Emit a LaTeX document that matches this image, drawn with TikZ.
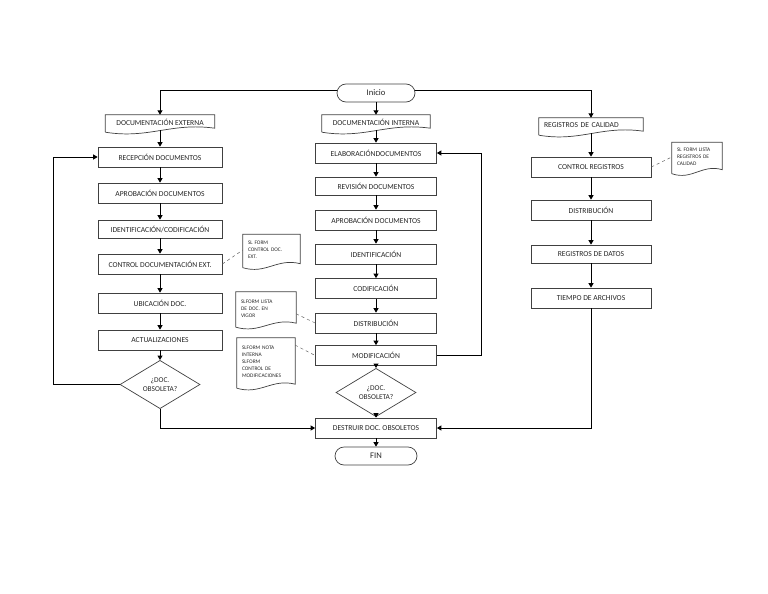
\documentclass[tikz,border=0pt]{standalone}
\usepackage{fontspec}
\setmainfont{Carlito}
\usetikzlibrary{calc,arrows.meta,shapes.geometric}

% outline of a document symbol (wavy bottom) around a named node
\newcommand{\docoutline}[1]{%
  \draw[boxline] ([yshift=-2pt]#1.south west) -- (#1.north west) -- (#1.north east) -- ([yshift=2pt]#1.south east)
    .. controls ($(#1.south east)!0.4!(#1.south west)+(0,8pt)$)
    and ($(#1.south east)!0.6!(#1.south west)+(0,-9pt)$) .. ([yshift=-2pt]#1.south west);}

\tikzset{
  boxline/.style={draw=black!75, line width=0.7pt},
  procbox/.style={boxline, rectangle, minimum height=20pt, inner sep=1pt,
    font=\fontsize{7.6}{9}\selectfont, text=black!85},
  leftbox/.style={procbox, minimum width=124pt},
  midbox/.style={procbox, minimum width=121pt},
  rightbox/.style={procbox, minimum width=120pt},
  docnode/.style={rectangle, inner sep=1pt, minimum height=15pt,
    font=\fontsize{7.6}{9}\selectfont, text=black!85},
  notenode/.style={rectangle, inner xsep=5pt, inner ysep=2pt, align=left,
    font=\fontsize{5.4}{7}\selectfont, text=black!85},
  termbox/.style={boxline, rectangle, rounded corners=9pt, minimum height=18pt,
    font=\fontsize{8.6}{10}\selectfont, text=black!85},
  decision/.style={boxline, diamond, minimum width=80pt, minimum height=35pt,
    inner sep=0pt, align=center, font=\fontsize{7.4}{9}\selectfont, text=black!85},
  flow/.style={line width=1pt, -{Triangle[width=5pt,length=4.5pt]}},
  link/.style={draw=black!60, dashed, line width=0.5pt},
}

\begin{document}
\begin{tikzpicture}[x=1pt, y=-1pt]
    \useasboundingbox (0,0) rectangle (768,594);

    % Turning points of the two feedback loops
    \coordinate (loopext) at (53,0);
    \coordinate (loopint) at (481,0);

    % Start
    \node[termbox, minimum width=78pt] (inicio) at (376,93) {Inicio};

    % External documentation
    \node[docnode, minimum width=109pt] (docext) at (160,122.5) {DOCUMENTACIÓN EXTERNA};
    \node[leftbox] (recep) at (160,157) {RECEPCIÓN DOCUMENTOS};
    \node[leftbox] (aprobext) at (160,193) {APROBACIÓN DOCUMENTOS};
    \node[leftbox, minimum height=18pt] (identext) at (160,229) {IDENTIFICACIÓN/CODIFICACIÓN};
    \node[leftbox] (controlext) at (160,264) {CONTROL DOCUMENTACIÓN EXT.};
    \node[leftbox] (ubicacion) at (160,303) {UBICACIÓN DOC.};
    \node[leftbox] (actual) at (160,340) {ACTUALIZACIONES};
    \node[decision] (obsext) at (160,384.5) {¿DOC.\\OBSOLETA?};

    % Internal documentation
    \node[docnode, minimum width=108pt] (docint) at (376,122.5) {DOCUMENTACIÓN INTERNA};
    \node[midbox] (elab) at (376,153) {ELABORACIÓNDOCUMENTOS};
    \node[midbox, minimum height=18pt] (revision) at (376,186) {REVISIÓN DOCUMENTOS};
    \node[midbox] (aprobint) at (376,220) {APROBACIÓN DOCUMENTOS};
    \node[midbox] (identint) at (376,254) {IDENTIFICACIÓN};
    \node[midbox] (codif) at (376,288.5) {CODIFICACIÓN};
    \node[midbox] (distint) at (376,323) {DISTRIBUCIÓN};
    \node[midbox] (modif) at (376,355.5) {MODIFICACIÓN};
    \node[decision] (obsint) at (376,392.5) {¿DOC.\\OBSOLETA?};
    \node[midbox] (destruir) at (376,428) {DESTRUIR DOC. OBSOLETOS};
    \node[termbox, minimum width=82pt] (fin) at (376,456) {FIN};

    % Quality records
    \node[docnode, minimum width=104pt, text width=94pt, inner xsep=5pt, align=left] (regcal) at (591,125.5) {REGISTROS DE CALIDAD};
    \node[rightbox] (ctrlreg) at (591,167) {CONTROL REGISTROS};
    \node[rightbox] (distreg) at (591,210) {DISTRIBUCIÓN};
    \node[rightbox, minimum height=18pt] (regdatos) at (591,254) {REGISTROS DE DATOS};
    \node[rightbox] (tiempo) at (591,298) {TIEMPO DE ARCHIVOS};

    % Forms attached to some steps
    \node[notenode, minimum width=57pt, minimum height=31pt, text width=47pt] (noteext) at (271.5,250) {SL FORM\\CONTROL DOC.\\EXT.};
    \node[notenode, minimum width=60pt, minimum height=33pt, text width=50pt] (notevigor) at (266,308.5) {SLFORM LISTA\\DE DOC. EN\\VIGOR};
    \node[notenode, minimum width=58pt, minimum height=48pt, text width=48pt] (notemod) at (266,362) {SLFORM NOTA\\INTERNA\\SLFORM\\CONTROL DE\\MODIFICACIONES};
    \node[notenode, minimum width=50pt, minimum height=29pt, text width=40pt] (notereg) at (697,157) {SL FORM LISTA\\REGISTROS DE\\CALIDAD};

    % Document outlines
    \foreach \d in {docext, docint, regcal, noteext, notevigor, notemod, notereg}
        \docoutline{\d};

    % Branches from the start
    \draw[flow] ([yshift=3pt]inicio.west) -| (docext.north);
    \draw[flow] ([yshift=3pt]inicio.east) -| (regcal.north);
    \draw[flow] (inicio) -- (docint);

    % Straight steps down each column
    \foreach \a/\b in {docext/recep, recep/aprobext, aprobext/identext, identext/controlext,
        controlext/ubicacion, ubicacion/actual, actual/obsext,
        docint/elab, elab/revision, revision/aprobint, aprobint/identint, identint/codif,
        codif/distint, distint/modif, modif/obsint, obsint/destruir, destruir/fin,
        regcal/ctrlreg, ctrlreg/distreg, distreg/regdatos, regdatos/tiempo}
        \draw[flow] (\a) -- (\b);

    % Loops back and joins into the end
    \draw[flow] (obsext.west) -- (obsext.west -| loopext) |- (recep.west);
    \draw[flow] (modif.east) -- (modif.east -| loopint) |- (elab.east);
    \draw[flow] (obsext.south) |- (destruir.west);
    \draw[flow] (tiempo.south) |- (destruir.east);

    % Dashed links to the forms
    \draw[link] (controlext.east) -- (noteext.west);
    \draw[link] (notevigor.-10) -- (distint.west);
    \draw[link] (notemod.30) -- (modif.west);
    \draw[link] (ctrlreg.east) -- (notereg.west);

\end{tikzpicture}
\end{document}
